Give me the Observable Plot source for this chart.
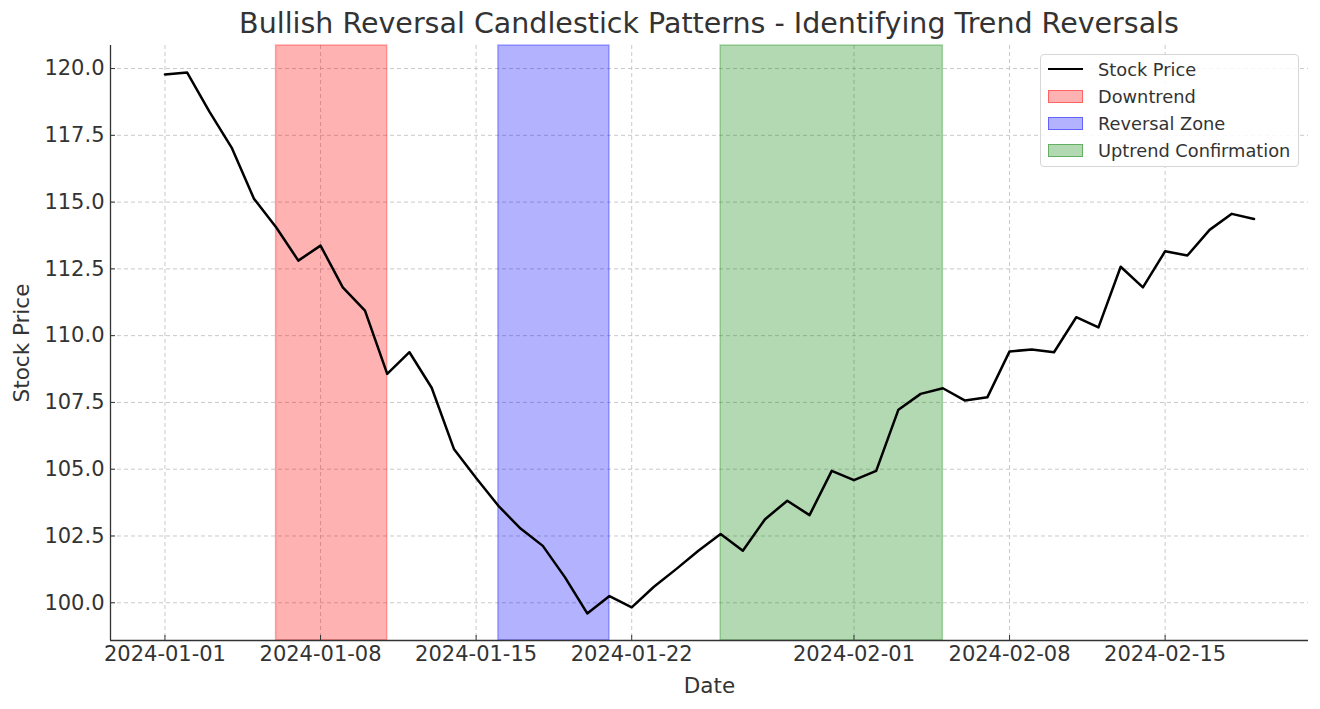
<!DOCTYPE html>
<html><head><meta charset="utf-8">
<script src="https://cdn.jsdelivr.net/npm/d3@7"></script>
<script src="https://cdn.jsdelivr.net/npm/@observablehq/plot@0.6"></script>
<style>
body{margin:0;background:#fff;font-family:"DejaVu Sans",sans-serif;}
#wrap{position:relative;width:1320px;height:709px;overflow:hidden;}
#title{position:absolute;left:110px;width:1198px;top:5px;text-align:center;font-size:28.5px;color:#333;line-height:38px;}
#legend{position:absolute;left:1040px;top:54px;width:259px;height:113px;border:1px solid #d6d6d6;border-radius:4px;background:rgba(255,255,255,0.85);box-sizing:border-box;}
.row{position:absolute;left:7px;height:22px;display:flex;align-items:center;font-size:17.8px;color:#333;}
.sw{width:35px;height:13px;margin-right:15px;box-sizing:border-box;}
.ln{width:35px;height:0;border-top:2.5px solid #000;margin-right:15px;}
</style></head>
<body><div id="wrap"><div id="title">Bullish Reversal Candlestick Patterns - Identifying Trend Reversals</div><div id="legend"></div></div>
<script>
const startDate = "2024-01-01";
const prices = [119.78,119.85,118.39,117.04,115.13,114.06,112.81,113.37,111.81,110.94,
108.57,109.38,108.05,105.76,104.67,103.63,102.78,102.13,100.95,99.60,
100.25,99.83,100.60,101.26,101.95,102.57,101.95,103.13,103.82,103.28,
104.94,104.59,104.94,107.23,107.82,108.03,107.57,107.69,109.41,109.48,
109.38,110.69,110.31,112.58,111.81,113.16,113.00,113.96,114.56,114.37];
const zoneNames = ["Downtrend","Reversal Zone","Uptrend Confirmation"];
const zoneStarts = ["2024-01-06","2024-01-16","2024-01-26"];
const zoneEnds = ["2024-01-11","2024-01-21","2024-02-05"];
const zoneColors = ["red","blue","green"];
const xTickLabels = ["2024-01-01","2024-01-08","2024-01-15","2024-01-22","2024-02-01","2024-02-08","2024-02-15"];
const yTicks = [100,102.5,105,107.5,110,112.5,115,117.5,120];

const DAY = 86400000;
const t0 = new Date(startDate + "T00:00:00Z");
const data = prices.map((p,i)=>({date:new Date(+t0 + i*DAY), price:p}));
const zones = zoneNames.map((n,i)=>({name:n, x1:new Date(zoneStarts[i]+"T00:00:00Z"), x2:new Date(zoneEnds[i]+"T00:00:00Z"), color:zoneColors[i]}));
const xTicks = xTickLabels.map(s=>new Date(s+"T00:00:00Z"));

const dMin = +data[0].date, dMax = +data[data.length-1].date;
const dm = (dMax-dMin)*0.05;
const xDomain = [new Date(dMin-dm), new Date(dMax+dm)];
const pMin = d3.min(prices), pMax = d3.max(prices), pm = (pMax-pMin)*0.05;
const yDomain = [pMin-pm, pMax+pm];

const fmt = d3.utcFormat("%Y-%m-%d");
const chart = Plot.plot({
  width:1320, height:709,
  marginLeft:110, marginRight:12, marginTop:45, marginBottom:69,
  style:{fontFamily:"DejaVu Sans, sans-serif", fontSize:"21px", color:"#333", background:"transparent"},
  x:{type:"utc", domain:xDomain},
  y:{domain:yDomain},
  marks:[
    Plot.gridX(xTicks, {stroke:"#bbb", strokeOpacity:0.8, strokeDasharray:"4,3", strokeWidth:1}),
    Plot.gridY(yTicks, {stroke:"#bbb", strokeOpacity:0.8, strokeDasharray:"4,3", strokeWidth:1}),
    Plot.rect(zones, {x1:"x1", x2:"x2", fill:"color", fillOpacity:0.3, stroke:"color", strokeOpacity:0.3, strokeWidth:1.5}),
    Plot.line(data, {x:"date", y:"price", stroke:"black", strokeWidth:2.5}),
    Plot.ruleX([xDomain[0]], {stroke:"#333", strokeWidth:1.3}),
    Plot.ruleY([yDomain[0]], {stroke:"#333", strokeWidth:1.3}),
    Plot.axisX({ticks:xTicks, tickFormat:fmt, tickSize:-5, tickPadding:11, label:null, fontSize:21}),
    Plot.axisY({ticks:yTicks, tickFormat:d3.format(".1f"), tickSize:-5, tickPadding:11, label:null, fontSize:21}),
    Plot.text(["Date"], {frameAnchor:"bottom", dy:52, fontSize:21.5, fill:"#333"}),
    Plot.text(["Stock Price"], {frameAnchor:"left", textAnchor:"middle", dx:-88, rotate:-90, fontSize:21.5, fill:"#333"})
  ]
});
chart.style.position="absolute"; chart.style.left="0"; chart.style.top="0";
document.getElementById("wrap").prepend(chart);

const lg = document.getElementById("legend");
const items = [{name:"Stock Price", line:true}].concat(zones.map(z=>({name:z.name, color:z.color})));
const rgb = {red:"255,0,0", blue:"0,0,255", green:"0,128,0"};
items.forEach((it,i)=>{
  const r=document.createElement("div"); r.className="row"; r.style.top=(3+i*27)+"px";
  const s=document.createElement("div");
  if(it.line){s.className="ln";}
  else{s.className="sw"; s.style.background="rgba("+rgb[it.color]+",0.3)"; s.style.border="1.5px solid rgba("+rgb[it.color]+",0.45)";}
  r.appendChild(s);
  const t=document.createElement("span"); t.textContent=it.name; r.appendChild(t);
  lg.appendChild(r);
});
</script></body></html>
